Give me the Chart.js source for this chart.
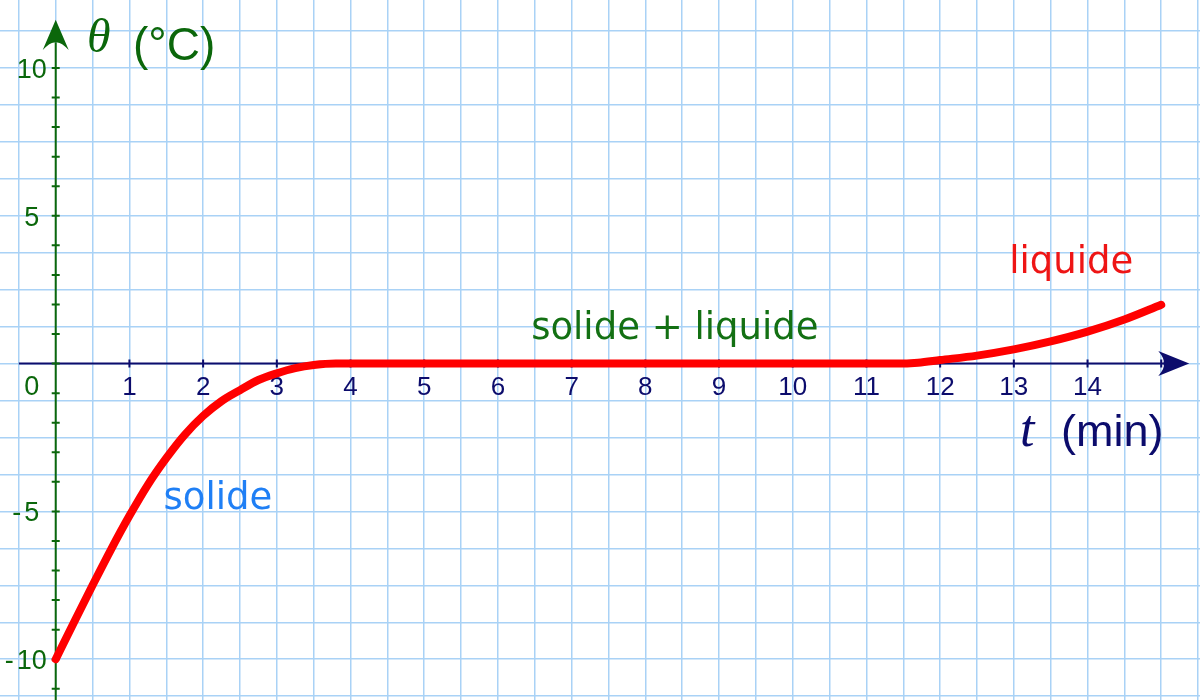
<!DOCTYPE html>
<html>
<head>
<meta charset="utf-8">
<script src="https://cdn.jsdelivr.net/npm/chart.js@4/dist/chart.umd.min.js"></script>
<style>
html,body{margin:0;padding:0;background:#ffffff;overflow:hidden}
canvas{display:block}
</style>
</head>
<body>
<canvas id="c" width="1200" height="700"></canvas>
<script>
// ---- data ----
const times = [0, 0.25, 0.5, 0.75, 1, 1.25, 1.5, 1.75, 2, 2.25, 2.5, 2.75, 3, 3.25, 3.5, 3.8, 11.4, 11.7, 12, 12.5, 13, 13.5, 14, 14.5, 15];
const temps = [-10, -8.74, -7.5, -6.29, -5.15, -4.1, -3.2, -2.41, -1.77, -1.27, -0.9, -0.555, -0.33, -0.155, -0.05, 0, 0, 0.03, 0.12, 0.27, 0.48, 0.75, 1.08, 1.49, 1.99];
const xTickLabels = ['1','2','3','4','5','6','7','8','9','10','11','12','13','14'];
const yTickLabels = ['10','5','-5','-10'];
const originLabel = '0';
const phaseLabels = ['solide', 'solide + liquide', 'liquide'];
const yAxisTitle = ['θ', '(°C)'];
const xAxisTitle = ['t', '(min)'];

// ---- styles / positions ----
const NAVY = '#0c0c6c';
const GREEN = '#0b670b';
const GRID = '#a9d2f6';
const phaseStyle = [
  {t: 2.2, v: -4.93, color: '#1f7ff5'},
  {t: 8.4, v: 0.83, color: '#137013'},
  {t: 13.78, v: 3.07, color: '#ee1515'}
];
const ANNOT_FONT = '37px "DejaVu Sans"';

const points = times.map((t, i) => ({x: t, y: temps[i]}));

const axesPlugin = {
  id: 'axesPlugin',
  beforeDatasetsDraw(chart) {
    const {ctx, chartArea} = chart;
    const xs = chart.scales.x, ys = chart.scales.y;
    const x0 = xs.getPixelForValue(0), y0 = ys.getPixelForValue(0);
    ctx.save();
    // x axis
    ctx.strokeStyle = NAVY; ctx.fillStyle = NAVY; ctx.lineWidth = 2;
    ctx.beginPath();
    ctx.moveTo(xs.getPixelForValue(-0.5), y0);
    ctx.lineTo(xs.getPixelForValue(15.1), y0);
    for (let t = 1; t <= 15; t++) {
      const px = xs.getPixelForValue(t);
      ctx.moveTo(px, y0 - 4); ctx.lineTo(px, y0 + 4);
    }
    ctx.stroke();
    // x arrow
    const tipX = xs.getPixelForValue(15.38), backX = xs.getPixelForValue(14.96), notchX = xs.getPixelForValue(15.03);
    ctx.beginPath();
    ctx.moveTo(tipX, y0);
    ctx.lineTo(backX, y0 - 12.5);
    ctx.quadraticCurveTo(notchX + 2, y0 - 4, notchX, y0);
    ctx.quadraticCurveTo(notchX + 2, y0 + 4, backX, y0 + 12.5);
    ctx.closePath();
    ctx.fill();
    // x labels
    ctx.font = '26px "Liberation Sans"';
    ctx.textAlign = 'center'; ctx.textBaseline = 'alphabetic';
    xTickLabels.forEach(l => {
      ctx.fillText(l, xs.getPixelForValue(Number(l)), y0 + 31);
    });

    // y axis
    ctx.strokeStyle = GREEN; ctx.fillStyle = GREEN; ctx.lineWidth = 2;
    const tipY = ys.getPixelForValue(11.63), backY = ys.getPixelForValue(10.61), notchY = ys.getPixelForValue(10.85);
    ctx.beginPath();
    ctx.moveTo(x0, chartArea.bottom);
    ctx.lineTo(x0, notchY);
    for (let v = -11; v <= 10; v++) {
      const py = ys.getPixelForValue(v);
      ctx.moveTo(x0 - 4, py); ctx.lineTo(x0 + 4, py);
    }
    ctx.stroke();
    ctx.beginPath();
    ctx.moveTo(x0, tipY);
    ctx.lineTo(x0 - 13, backY);
    ctx.quadraticCurveTo(x0 - 4, notchY - 2, x0, notchY);
    ctx.quadraticCurveTo(x0 + 4, notchY - 2, x0 + 13, backY);
    ctx.closePath();
    ctx.fill();
    // y labels
    ctx.font = '27px "Liberation Sans"';
    const cx = x0 - 24;
    yTickLabels.forEach(l => {
      const v = Number(l);
      const py = ys.getPixelForValue(v) + 10;
      const digits = String(Math.abs(v));
      ctx.textAlign = 'center';
      ctx.fillText(digits, cx, py);
      if (v < 0) {
        const w = ctx.measureText(digits).width;
        ctx.textAlign = 'right';
        ctx.fillText('-', cx - w / 2 - 3, py);
      }
    });
    ctx.textAlign = 'center';
    ctx.fillText(originLabel, cx, y0 + 31);
    ctx.restore();
  },
  afterDatasetsDraw(chart) {
    const {ctx} = chart;
    const xs = chart.scales.x, ys = chart.scales.y;
    ctx.save();
    ctx.textBaseline = 'alphabetic';
    ctx.textAlign = 'center';
    ctx.font = ANNOT_FONT;
    phaseLabels.forEach((txt, i) => {
      const s = phaseStyle[i];
      ctx.fillStyle = s.color;
      ctx.fillText(txt, xs.getPixelForValue(s.t), ys.getPixelForValue(s.v));
    });
    // y axis title
    ctx.fillStyle = GREEN;
    ctx.textAlign = 'left';
    ctx.font = 'italic 48px "Liberation Serif"';
    ctx.fillText(yAxisTitle[0], 87, 52);
    ctx.font = '46px "Liberation Sans"';
    ctx.fillText(yAxisTitle[1], 133, 60);
    // x axis title
    ctx.fillStyle = NAVY;
    ctx.font = 'italic 52px "Liberation Serif"';
    ctx.fillText(xAxisTitle[0], 1020, 446);
    ctx.font = '45px "Liberation Sans"';
    ctx.fillText(xAxisTitle[1], 1061, 446);
    ctx.restore();
  }
};

function gridTicks(from, to, step) {
  const arr = [];
  const n = Math.round((to - from) / step);
  for (let i = 0; i <= n; i++) arr.push({value: from + i * step});
  return arr;
}

new Chart(document.getElementById('c'), {
  type: 'line',
  data: {
    datasets: [{
      data: points,
      borderColor: '#ff0000',
      borderWidth: 8,
      borderCapStyle: 'round',
      borderJoinStyle: 'round',
      pointRadius: 0,
      fill: false,
      cubicInterpolationMode: 'monotone'
    }]
  },
  options: {
    responsive: false,
    animation: false,
    devicePixelRatio: 1,
    layout: {padding: 0},
    plugins: {legend: {display: false}, tooltip: {enabled: false}},
    scales: {
      x: {
        type: 'linear', min: -0.756, max: 15.526,
        afterBuildTicks: s => { s.ticks = gridTicks(-0.5, 15.5, 0.5); },
        ticks: {display: false},
        grid: {color: GRID, lineWidth: 1.5, drawTicks: false},
        border: {display: false}
      },
      y: {
        type: 'linear', min: -11.38, max: 12.30,
        afterBuildTicks: s => { s.ticks = gridTicks(-11.25, 11.25, 1.25); },
        ticks: {display: false},
        grid: {color: GRID, lineWidth: 1.5, drawTicks: false},
        border: {display: false}
      }
    }
  },
  plugins: [axesPlugin]
});
</script>
</body>
</html>
